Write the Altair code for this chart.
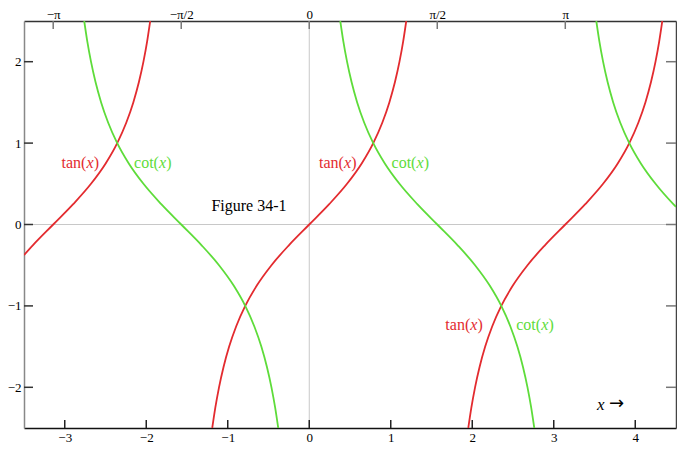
import altair as alt
import pandas as pd

# ---------------- data ----------------
Y_FULL = [-2.5, -2.25, -2.0, -1.75, -1.5, -1.25, -1.0, -0.75, -0.5, -0.25, 0.0,
          0.25, 0.5, 0.75, 1.0, 1.25, 1.5, 1.75, 2.0, 2.25, 2.5]
Y_DOWN = list(reversed(Y_FULL))

# tan(x) branches
tanA_x = [-3.5, -3.38657, -3.14159, -2.89661, -2.67794, -2.49809, -2.35619,
          -2.24553, -2.15880, -2.08994, -2.03444, -1.98902, -1.95130]
tanA_y = [-0.375, -0.25, 0.0, 0.25, 0.5, 0.75, 1.0, 1.25, 1.5, 1.75, 2.0, 2.25, 2.5]
tanB_x = [-1.19029, -1.15257, -1.10715, -1.05165, -0.98279, -0.89606, -0.78540,
          -0.64350, -0.46365, -0.24498, 0.0, 0.24498, 0.46365, 0.64350, 0.78540,
          0.89606, 0.98279, 1.05165, 1.10715, 1.15257, 1.19029]
tanB_y = Y_FULL
tanC_x = [1.95130, 1.98902, 2.03444, 2.08994, 2.15880, 2.24553, 2.35619, 2.49809,
          2.67794, 2.89661, 3.14159, 3.38657, 3.60524, 3.78509, 3.92699, 4.03765,
          4.12438, 4.19324, 4.24874, 4.29416, 4.33188]
tanC_y = Y_FULL

# cot(x) branches
cotA_x = [-2.76109, -2.72337, -2.67795, -2.62245, -2.55359, -2.46686, -2.35620,
          -2.21430, -2.03445, -1.81578, -1.57080, -1.32582, -1.10715, -0.92730,
          -0.78540, -0.67474, -0.58801, -0.51915, -0.46365, -0.41823, -0.38051]
cotA_y = Y_DOWN
cotB_x = [0.38051, 0.41823, 0.46365, 0.51915, 0.58801, 0.67474, 0.78540, 0.92730,
          1.10715, 1.32582, 1.57080, 1.81578, 2.03445, 2.21430, 2.35620, 2.46686,
          2.55359, 2.62245, 2.67795, 2.72337, 2.76109]
cotB_y = Y_DOWN
cotC_x = [3.52210, 3.55982, 3.60524, 3.66074, 3.72960, 3.81633, 3.92699, 4.06889,
          4.24874, 4.46741, 4.5]
cotC_y = [2.5, 2.25, 2.0, 1.75, 1.5, 1.25, 1.0, 0.75, 0.5, 0.25, 0.216]

x_ticks = [-3, -2, -1, 0, 1, 2, 3, 4]
y_ticks = [-2, -1, 0, 1, 2]
top_tick_vals = [-3.14159, -1.57080, 0.0, 1.57080, 3.14159]
top_tick_labels = ["−π", "−π/2", "0", "π/2", "π"]

label_fn = ["tan", "cot", "tan", "cot", "tan", "cot"]
label_head = ["tan(", "cot(", "tan(", "cot(", "tan(", "cot("]
label_x = [-3.04, -2.15, 0.12, 1.01, 1.67, 2.54]
label_y = [0.75, 0.75, 0.75, 0.75, -1.23, -1.23]

fig_text = ["Figure 34-1"]
fig_x = [-0.74]
fig_y = [0.23]

arrow_x = [3.53]
arrow_y = [-2.22]

# ---------------- build tables ----------------
rows = []
for fn, name, xs_, ys_ in [("tan", "tA", tanA_x, tanA_y), ("tan", "tB", tanB_x, tanB_y),
                           ("tan", "tC", tanC_x, tanC_y), ("cot", "cA", cotA_x, cotA_y),
                           ("cot", "cB", cotB_x, cotB_y), ("cot", "cC", cotC_x, cotC_y)]:
    for a, b in zip(xs_, ys_):
        rows.append({"x": a, "y": b, "fn": fn, "branch": name})
curves = pd.DataFrame(rows)

labels = pd.DataFrame({"x": label_x, "y": label_y, "fn": label_fn, "head": label_head,
                       "var": ["x"] * 6, "close": [")"] * 6})
fig_df = pd.DataFrame({"x": fig_x, "y": fig_y, "t": fig_text})
arrow_df = pd.DataFrame({"x": arrow_x, "y": arrow_y, "v": ["x"], "a": ["→"]})
xt_df = pd.DataFrame({"v": x_ticks})
yt_df = pd.DataFrame({"v": y_ticks})
top_df = pd.DataFrame({"v": top_tick_vals})
zero_df = pd.DataFrame({"v": [0.0]})

W, H = 652, 407
FONT = "Liberation Serif"
RED, GREEN = "#e32b2f", "#5edc3a"

xs = alt.Scale(domain=[-3.5, 4.5], nice=False, zero=False)
ys = alt.Scale(domain=[-2.5, 2.5], nice=False, zero=False)
cs = alt.Scale(domain=["tan", "cot"], range=[RED, GREEN])

X = lambda f: alt.X(f, type="quantitative", scale=xs, axis=None)
Y = lambda f: alt.Y(f, type="quantitative", scale=ys, axis=None)

zero_v = alt.Chart(zero_df).mark_rule(color="#c8c8c8", strokeWidth=1).encode(x=X("v"))
zero_h = alt.Chart(zero_df).mark_rule(color="#c8c8c8", strokeWidth=1).encode(y=Y("v"))

lines = alt.Chart(curves).mark_line(strokeWidth=1.8, interpolate="monotone", clip=True).encode(
    x=alt.X("x:Q", scale=xs,
            axis=alt.Axis(orient="bottom", values=x_ticks, ticks=False, tickSize=0,
                          domainColor="#111", domainWidth=1.5, labelPadding=3,
                          labelFont=FONT, labelFontSize=13, labelColor="#000",
                          grid=False, title=None)),
    y=alt.Y("y:Q", scale=ys,
            axis=alt.Axis(orient="left", values=y_ticks, ticks=False, tickSize=0,
                          domainColor="#888", domainWidth=1.5, labelPadding=3,
                          labelFont=FONT, labelFontSize=13, labelColor="#000",
                          grid=False, title=None)),
    color=alt.Color("fn:N", scale=cs, legend=None),
    detail="branch:N",
)

expr = "[" + ",".join("'" + s + "'" for s in top_tick_labels) + "][round(datum.value*2/PI)+2]"
top_ticks = alt.Chart(top_df).mark_rule(color="#777", strokeWidth=1.5).encode(
    x=alt.X("v:Q", scale=xs,
            axis=alt.Axis(orient="top", values=top_tick_vals, ticks=False, tickSize=0,
                          domainColor="#333", domainWidth=1.5, labelPadding=3,
                          labelBaseline="alphabetic",
                          labelFont=FONT, labelFontSize=13, labelColor="#000",
                          labelExpr=expr, grid=False, title=None)),
    y=alt.value(0), y2=alt.value(8),
)
right_ticks = alt.Chart(yt_df).mark_rule(color="#777", strokeWidth=1.5).encode(
    y=alt.Y("v:Q", scale=ys,
            axis=alt.Axis(orient="right", values=y_ticks, ticks=False, tickSize=0,
                          labels=False, domainColor="#444", domainWidth=1.5,
                          grid=False, title=None)),
    x=alt.value(W), x2=alt.value(W - 10),
)
bottom_ticks = alt.Chart(xt_df).mark_rule(color="#222", strokeWidth=1.5).encode(
    x=X("v"), y=alt.value(H), y2=alt.value(H - 8))
left_ticks = alt.Chart(yt_df).mark_rule(color="#333", strokeWidth=1.5).encode(
    y=Y("v"), x=alt.value(0), x2=alt.value(9))

head = alt.Chart(labels).mark_text(align="left", baseline="middle", font=FONT, fontSize=16).encode(
    x=X("x"), y=Y("y"), text="head:N", color=alt.Color("fn:N", scale=cs, legend=None))
var = alt.Chart(labels).mark_text(align="left", baseline="middle", font=FONT, fontSize=16,
                                  fontStyle="italic", dx=24.9).encode(
    x=X("x"), y=Y("y"), text="var:N", color=alt.Color("fn:N", scale=cs, legend=None))
close = alt.Chart(labels).mark_text(align="left", baseline="middle", font=FONT, fontSize=16,
                                    dx=32.2).encode(
    x=X("x"), y=Y("y"), text="close:N", color=alt.Color("fn:N", scale=cs, legend=None))

fig = alt.Chart(fig_df).mark_text(align="center", baseline="middle", font=FONT, fontSize=16,
                                  color="#000").encode(x=X("x"), y=Y("y"), text="t:N")
ax_var = alt.Chart(arrow_df).mark_text(align="left", baseline="middle", font=FONT, fontSize=17,
                                       fontStyle="italic", color="#000").encode(
    x=X("x"), y=Y("y"), text="v:N")
ax_arrow = alt.Chart(arrow_df).mark_text(align="left", baseline="middle", font="DejaVu Sans",
                                         fontSize=18, dx=12, dy=-1, color="#000").encode(
    x=X("x"), y=Y("y"), text="a:N")

chart = alt.layer(
    zero_v, zero_h, lines, top_ticks, right_ticks, bottom_ticks, left_ticks,
    head, var, close, fig, ax_var, ax_arrow,
).resolve_axis(x="independent", y="independent").properties(
    width=W, height=H,
    autosize=alt.AutoSizeParams(type="none"),
    padding={"left": 16, "top": 13, "right": 1, "bottom": 15},
    background="white",
).configure_view(strokeWidth=0)

chart.save("out.html", embed_options={"renderer": "svg", "actions": False})
